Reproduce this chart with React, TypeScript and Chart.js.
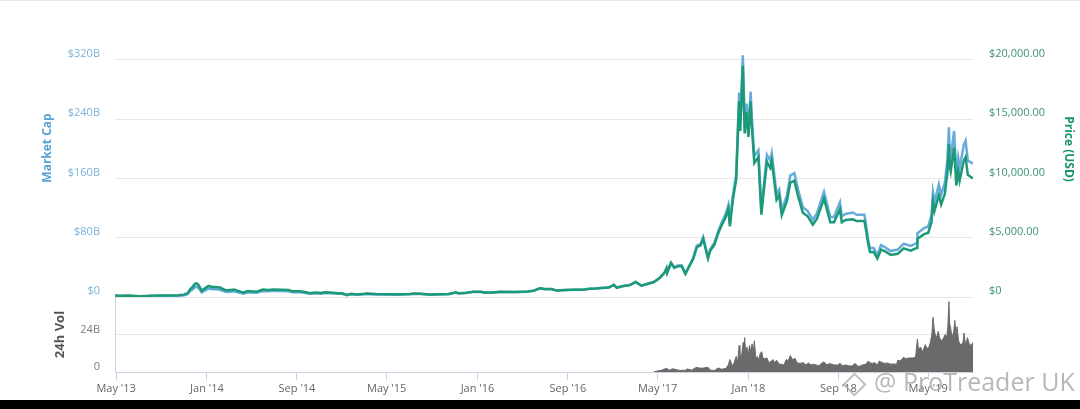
import React, { useEffect, useRef } from "react";
import { Chart, registerables } from "chart.js";

Chart.register(...registerables);

const START_DATE = "2013-04-28";
const END_DATE = "2019-08-30";

// ---- Price (USD) and Market Cap (billions USD) ----
const priceDates = [
  // 2013
  "2013-04-28", "2013-05-15", "2013-06-01", "2013-06-15", "2013-07-05", "2013-07-20", "2013-08-01", "2013-08-20", "2013-09-15", "2013-10-01",
  "2013-10-15", "2013-10-31", "2013-11-10", "2013-11-18", "2013-11-22", "2013-11-30", "2013-12-04", "2013-12-10", "2013-12-18", "2013-12-24",
  // 2014
  "2014-01-05", "2014-01-15", "2014-01-25", "2014-02-05", "2014-02-20", "2014-03-01", "2014-03-15", "2014-04-10", "2014-04-20", "2014-05-15",
  "2014-06-01", "2014-06-15", "2014-07-01", "2014-07-20", "2014-08-10", "2014-08-20", "2014-09-10", "2014-09-25", "2014-10-05", "2014-10-20",
  "2014-11-05", "2014-11-15", "2014-12-01", "2014-12-20",
  // 2015
  "2015-01-01", "2015-01-14", "2015-01-25", "2015-02-10", "2015-03-10", "2015-04-01", "2015-05-01", "2015-06-01", "2015-07-01", "2015-07-15",
  "2015-08-01", "2015-08-25", "2015-09-15", "2015-10-15", "2015-11-04", "2015-11-11", "2015-12-01", "2015-12-20",
  // 2016
  "2016-01-10", "2016-01-20", "2016-02-10", "2016-03-01", "2016-04-15", "2016-05-15", "2016-06-01", "2016-06-17", "2016-07-01", "2016-07-20",
  "2016-08-02", "2016-08-20", "2016-09-15", "2016-10-10", "2016-10-30", "2016-11-15", "2016-12-01", "2016-12-20",
  // 2017
  "2017-01-03", "2017-01-11", "2017-01-25", "2017-02-15", "2017-03-03", "2017-03-18", "2017-04-01", "2017-04-20", "2017-05-05", "2017-05-20",
  "2017-05-25", "2017-05-27", "2017-06-06", "2017-06-15", "2017-06-25", "2017-07-05", "2017-07-15", "2017-07-25", "2017-08-05", "2017-08-15",
  "2017-08-25", "2017-09-01", "2017-09-14", "2017-09-20", "2017-10-01", "2017-10-12", "2017-10-20", "2017-11-01", "2017-11-08", "2017-11-12",
  "2017-11-20", "2017-11-29", "2017-12-07", "2017-12-10", "2017-12-17", "2017-12-22", "2017-12-27",
  // 2018
  "2018-01-01", "2018-01-07", "2018-01-10", "2018-01-17", "2018-01-28", "2018-02-05", "2018-02-10", "2018-02-20", "2018-03-01", "2018-03-05",
  "2018-03-18", "2018-03-25", "2018-04-01", "2018-04-15", "2018-04-24", "2018-05-05", "2018-05-15", "2018-05-28", "2018-06-10", "2018-06-24",
  "2018-07-05", "2018-07-24", "2018-08-10", "2018-08-20", "2018-09-05", "2018-09-10", "2018-09-20", "2018-10-10", "2018-10-20", "2018-11-10",
  "2018-11-14", "2018-11-20", "2018-11-25", "2018-12-05", "2018-12-15", "2018-12-25",
  // 2019
  "2019-01-05", "2019-01-20", "2019-02-08", "2019-02-24", "2019-03-15", "2019-04-01", "2019-04-02", "2019-04-20", "2019-05-01", "2019-05-10",
  "2019-05-14", "2019-05-18", "2019-05-30", "2019-06-05", "2019-06-15", "2019-06-22", "2019-06-26", "2019-06-28", "2019-07-01", "2019-07-10",
  "2019-07-16", "2019-07-21", "2019-07-25", "2019-08-05", "2019-08-10", "2019-08-16", "2019-08-30",
];

const priceUSD = [
  // 2013
  135, 115, 129, 100, 70, 90, 105, 120, 130, 125,
  145, 200, 330, 700, 800, 1120, 1150, 980, 520, 665,
  // 2014
  930, 850, 850, 800, 570, 560, 630, 360, 500, 450,
  630, 600, 640, 620, 590, 480, 475, 410, 320, 380,
  330, 400, 380, 320,
  // 2015
  315, 175, 275, 220, 290, 245, 235, 225, 258, 285,
  280, 210, 230, 255, 400, 310, 360, 440,
  // 2016
  450, 380, 380, 435, 425, 455, 535, 740, 670, 665,
  540, 580, 610, 615, 700, 710, 750, 800,
  // 2017
  1020, 780, 900, 1000, 1260, 950, 1080, 1240, 1550, 2050,
  2400, 2050, 2850, 2450, 2600, 2600, 1950, 2550, 3200, 4200,
  4350, 4890, 3250, 3900, 4400, 5400, 6000, 6750, 7450, 5950,
  8200, 9900, 16500, 14000, 19500, 13800, 15600,
  // 2018
  13500, 16500, 14500, 11300, 11800, 6950, 8500, 11400, 10900, 11500,
  8200, 8600, 6900, 8100, 9650, 9800, 8500, 7100, 6800, 6100,
  6600, 8300, 6300, 6300, 7400, 6300, 6500, 6550, 6400, 6400,
  5700, 4500, 3800, 3800, 3250, 4000,
  // 2019
  3850, 3550, 3650, 4100, 3900, 4150, 4900, 5300, 5400, 6300,
  8000, 7250, 8600, 7800, 8700, 10500, 12900, 11100, 10600, 12600,
  9400, 10600, 9800, 11500, 11800, 10300, 10000,
];

const marketCapB = [
  // 2013
  1.5, 1.28, 1.43, 1.11, 0.81, 1.04, 1.21, 1.38, 1.5, 1.49,
  1.73, 2.38, 3.96, 8.4, 9.6, 13.4, 13.9, 11.8, 6.3, 8.0,
  // 2014
  11.3, 10.4, 10.4, 9.8, 7.0, 6.9, 7.8, 4.5, 6.3, 5.7,
  8.1, 7.7, 8.3, 8.0, 7.7, 6.3, 6.3, 5.4, 4.3, 5.1,
  4.4, 5.4, 5.1, 4.3,
  // 2015
  4.3, 2.4, 3.8, 3.0, 4.0, 3.4, 3.3, 3.2, 3.7, 4.1,
  4.1, 3.0, 3.4, 3.8, 5.9, 4.6, 5.4, 6.6,
  // 2016
  6.8, 5.7, 5.8, 6.7, 6.6, 7.1, 8.4, 11.6, 10.6, 10.5,
  8.5, 9.2, 9.7, 9.8, 11.2, 11.4, 12.0, 12.8,
  // 2017
  16.4, 12.6, 14.5, 16.2, 20.4, 15.4, 17.6, 20.2, 25.3, 33.5,
  39.2, 33.5, 46.7, 40.2, 42.6, 42.8, 32.1, 41.9, 52.8, 69.3,
  71.8, 80.9, 53.8, 64.5, 73.0, 89.6, 99.6, 112.5, 124.2, 99.2,
  136.7, 165.3, 276, 234, 326, 231, 261,
  // 2018
  226, 277, 243, 190, 198, 117, 143, 192, 184, 194,
  139, 145, 117, 137, 164, 167, 145, 121, 116, 104,
  113, 142, 108, 108, 128, 109, 112, 114, 111, 111,
  99, 78, 66, 66, 57, 70,
  // 2019
  67, 62, 64, 72, 69, 73, 86, 93, 95, 111,
  141, 128, 152, 138, 154, 186, 229, 197, 188, 224,
  167, 188, 174, 205, 211, 184, 180,
];

// ---- 24h Volume (billions USD) ----
const volumeDates = [
  // 2017
  "2017-04-20", "2017-05-01", "2017-05-10", "2017-05-25", "2017-06-01", "2017-06-12", "2017-06-20", "2017-07-01", "2017-07-16", "2017-07-20",
  "2017-08-01", "2017-08-08", "2017-08-15", "2017-08-22", "2017-09-01", "2017-09-14", "2017-09-20", "2017-10-01", "2017-10-12", "2017-10-20",
  "2017-11-01", "2017-11-08", "2017-11-12", "2017-11-20", "2017-11-29", "2017-12-03", "2017-12-07", "2017-12-09", "2017-12-12", "2017-12-15",
  "2017-12-18", "2017-12-20", "2017-12-22", "2017-12-25", "2017-12-28",
  // 2018
  "2018-01-01", "2018-01-04", "2018-01-07", "2018-01-11", "2018-01-14", "2018-01-17", "2018-01-21", "2018-01-25", "2018-01-29",
  "2018-02-02", "2018-02-06", "2018-02-09", "2018-02-14", "2018-02-20", "2018-02-25",
  "2018-03-02", "2018-03-08", "2018-03-13", "2018-03-18", "2018-03-25",
  "2018-04-01", "2018-04-07", "2018-04-13", "2018-04-18", "2018-04-24",
  "2018-05-01", "2018-05-06", "2018-05-12", "2018-05-20", "2018-05-29",
  "2018-06-05", "2018-06-12", "2018-06-19", "2018-06-25",
  "2018-07-03", "2018-07-10", "2018-07-17", "2018-07-24",
  "2018-08-01", "2018-08-08", "2018-08-14", "2018-08-22", "2018-08-30",
  "2018-09-05", "2018-09-12", "2018-09-20", "2018-09-28",
  "2018-10-08", "2018-10-15", "2018-10-25",
  "2018-11-05", "2018-11-14", "2018-11-20", "2018-11-25",
  "2018-12-01", "2018-12-08", "2018-12-15", "2018-12-20", "2018-12-28",
  // 2019
  "2019-01-05", "2019-01-11", "2019-01-20", "2019-01-28",
  "2019-02-05", "2019-02-08", "2019-02-15", "2019-02-24",
  "2019-03-01", "2019-03-10", "2019-03-20", "2019-03-28",
  "2019-04-02", "2019-04-05", "2019-04-10", "2019-04-16", "2019-04-23", "2019-04-28",
  "2019-05-03", "2019-05-07", "2019-05-11", "2019-05-14", "2019-05-17", "2019-05-20", "2019-05-24", "2019-05-28",
  "2019-06-01", "2019-06-05", "2019-06-10", "2019-06-16", "2019-06-20", "2019-06-23", "2019-06-26", "2019-06-28",
  "2019-07-01", "2019-07-04", "2019-07-09", "2019-07-12", "2019-07-15", "2019-07-18", "2019-07-22", "2019-07-28",
  "2019-08-03", "2019-08-06", "2019-08-10", "2019-08-15", "2019-08-20", "2019-08-25", "2019-08-30",
];

const volumeB = [
  // 2017
  0, 0.7, 1.0, 2.4, 1.2, 2.1, 1.5, 1.0, 1.2, 2.0,
  1.2, 2.3, 3.0, 2.5, 2.5, 3.0, 1.2, 1.0, 2.6, 1.8,
  2.2, 4.7, 8.0, 3.5, 10.0, 6.0, 17.0, 12.0, 9.0, 13.0,
  19.0, 14.0, 22.0, 10.0, 16.0,
  // 2018
  11, 17, 13, 18, 12, 20, 9, 10, 7.5,
  12, 13, 9, 8.5, 9, 6,
  6.5, 8, 6, 7.5, 5,
  5, 4.5, 8, 7, 10.5,
  7.5, 9, 6, 5.5, 6,
  4.5, 5.8, 4.5, 5,
  4.5, 4, 5.5, 6.5,
  4.5, 5.5, 5, 4.5, 4.5,
  5.5, 4, 4.5, 4,
  3.8, 5.5, 3.5,
  4.5, 5, 7, 6,
  5.5, 6, 4.5, 7, 6,
  // 2019
  5.5, 5.8, 5, 5.2,
  5, 7.5, 7, 9.5,
  8.5, 9, 9, 9.5,
  21, 14, 16, 13, 17.5, 15,
  16, 19, 24, 35, 28, 24, 22, 26,
  22, 20, 21, 24, 22, 29, 45, 31,
  28, 22, 26, 33, 24, 29, 20, 17,
  19, 25, 17, 22, 18, 17, 19,
];

// ---- Axis ticks ----
const xTickDates = [
  "2013-05-01", "2014-01-01", "2014-09-01", "2015-05-01", "2016-01-01",
  "2016-09-01", "2017-05-01", "2018-01-01", "2018-09-01", "2019-05-01",
];
const xTickLabels = [
  "May '13", "Jan '14", "Sep '14", "May '15", "Jan '16",
  "Sep '16", "May '17", "Jan '18", "Sep '18", "May '19",
];
const marketCapTicks = [0, 80, 160, 240, 320];
const priceTicks = [0, 5000, 10000, 15000, 20000];
const volumeTicks = [0, 24];

const FONT = '"Open Sans", "DejaVu Sans", sans-serif';

const dayOf = (d: string) => (Date.parse(d) - Date.parse(START_DATE)) / 86400000;

const fmtPrice = (v: number) =>
  v === 0
    ? "$0"
    : "$" + Number(v).toLocaleString("en-US", { minimumFractionDigits: 2, maximumFractionDigits: 2 });

const fixBox = (size: { width?: number; height?: number }) => (s: any) => {
  if (size.width !== undefined) s.width = size.width;
  if (size.height !== undefined) s.height = size.height;
  s.paddingTop = 0;
  s.paddingBottom = 0;
  s.paddingLeft = 0;
  s.paddingRight = 0;
};

type TitleSpec = { text: string; dx: number; dy: number; from: "left" | "right"; rot: number; font: string; color: string };

const axisTitles = (titles: TitleSpec[], centerY: boolean) => ({
  id: "axisTitles",
  afterDraw(chart: any) {
    const { ctx, chartArea } = chart;
    titles.forEach((t) => {
      const x = (t.from === "left" ? chartArea.left : chartArea.right) + t.dx;
      const y = centerY ? (chartArea.top + chartArea.bottom) / 2 + t.dy : chartArea.top + t.dy;
      ctx.save();
      ctx.translate(x, y);
      ctx.rotate(t.rot);
      ctx.font = t.font;
      ctx.fillStyle = t.color;
      ctx.textAlign = "center";
      ctx.textBaseline = "middle";
      ctx.fillText(t.text, 0, 0);
      ctx.restore();
    });
  },
});

export default function App() {
  const mainRef = useRef<HTMLCanvasElement | null>(null);
  const volRef = useRef<HTMLCanvasElement | null>(null);

  useEffect(() => {
    const xMax = dayOf(END_DATE);

    const main = new Chart(mainRef.current as HTMLCanvasElement, {
      type: "line",
      data: {
        datasets: [
          {
            label: "Price (USD)",
            data: priceDates.map((d, i) => ({ x: dayOf(d), y: priceUSD[i] })),
            yAxisID: "price",
            borderColor: "#1c9a78",
            borderWidth: 2.5,
            pointRadius: 0,
            tension: 0,
            fill: false,
          },
          {
            label: "Market Cap",
            data: priceDates.map((d, i) => ({ x: dayOf(d), y: marketCapB[i] })),
            yAxisID: "mcap",
            borderColor: "#65acdc",
            borderWidth: 2.5,
            pointRadius: 0,
            tension: 0,
            fill: false,
          },
        ],
      },
      options: {
        animation: false,
        responsive: false,
        events: [],
        layout: { padding: { top: 45, bottom: 3, left: 0, right: 0 } },
        plugins: { legend: { display: false }, tooltip: { enabled: false } },
        scales: {
          x: { type: "linear", min: 0, max: xMax, display: false },
          mcap: {
            type: "linear",
            position: "left",
            min: 0,
            max: 340,
            afterBuildTicks: (s: any) => {
              s.ticks = marketCapTicks.map((v) => ({ value: v }));
            },
            afterFit: fixBox({ width: 115 }),
            border: { display: false },
            grid: { color: "#e6e6e6", lineWidth: 1, drawTicks: false },
            ticks: {
              color: "#7ab3d6",
              font: { family: FONT, size: 11 },
              padding: 15,
              labelOffset: -6,
              callback: (v: any) => (v === 0 ? "$0" : `$${v}B`),
            },
          },
          price: {
            type: "linear",
            position: "right",
            min: 0,
            max: 21250,
            afterBuildTicks: (s: any) => {
              s.ticks = priceTicks.map((v) => ({ value: v }));
            },
            afterFit: fixBox({ width: 107 }),
            border: { display: false },
            grid: { display: false, drawTicks: false },
            ticks: {
              color: "#3f9279",
              font: { family: FONT, size: 11 },
              padding: 16,
              labelOffset: -6,
              callback: (v: any) => fmtPrice(Number(v)),
            },
          },
        },
      },
      plugins: [
        axisTitles(
          [
            { text: "Market Cap", dx: -67, dy: 103, from: "left", rot: -Math.PI / 2, font: `bold 12px ${FONT}`, color: "#55a3d5" },
            { text: "Price (USD)", dx: 95, dy: 104, from: "right", rot: Math.PI / 2, font: `bold 12px ${FONT}`, color: "#17956f" },
          ],
          false
        ),
      ],
    } as any);

    const vol = new Chart(volRef.current as HTMLCanvasElement, {
      type: "line",
      data: {
        datasets: [
          {
            label: "24h Vol",
            data: volumeDates.map((d, i) => ({ x: dayOf(d), y: volumeB[i] })),
            yAxisID: "vol",
            borderColor: "#6a6a6a",
            backgroundColor: "#6a6a6a",
            borderWidth: 1,
            pointRadius: 0,
            tension: 0,
            fill: "origin",
          },
        ],
      },
      options: {
        animation: false,
        responsive: false,
        events: [],
        layout: { padding: { top: 7, bottom: 0, left: 0, right: 107 } },
        plugins: { legend: { display: false }, tooltip: { enabled: false } },
        scales: {
          x: {
            type: "linear",
            min: 0,
            max: xMax,
            afterBuildTicks: (s: any) => {
              s.ticks = xTickDates.map((d) => ({ value: dayOf(d) }));
            },
            afterFit: fixBox({ height: 28 }),
            border: { display: true, color: "#ccd3e0" },
            grid: { drawOnChartArea: false, drawTicks: true, tickLength: 8, color: "#ccd3e0" },
            ticks: {
              autoSkip: false,
              maxRotation: 0,
              color: "#666666",
              font: { family: FONT, size: 11 },
              padding: 2,
              callback: (_v: any, i: number) => xTickLabels[i],
            },
          },
          vol: {
            type: "linear",
            position: "left",
            min: 0,
            max: 48,
            afterBuildTicks: (s: any) => {
              s.ticks = volumeTicks.map((v) => ({ value: v }));
            },
            afterFit: fixBox({ width: 115 }),
            border: { display: true, color: "#ccd3e0" },
            grid: { color: "#e6e6e6", drawTicks: false },
            ticks: {
              color: "#7a7a7a",
              font: { family: FONT, size: 11 },
              padding: 15,
              labelOffset: -5,
              callback: (v: any) => (v === 0 ? "0" : `${v}B`),
            },
          },
        },
      },
      plugins: [
        axisTitles(
          [{ text: "24h Vol", dx: -55, dy: 0, from: "left", rot: -Math.PI / 2, font: `bold 13px ${FONT}`, color: "#555555" }],
          true
        ),
      ],
    } as any);

    return () => {
      main.destroy();
      vol.destroy();
    };
  }, []);

  return (
    <div
      style={{
        position: "fixed",
        left: 0,
        top: 0,
        width: 1080,
        height: 409,
        background: "#ffffff",
        overflow: "hidden",
        fontFamily: FONT,
      }}
    >
      <div style={{ position: "absolute", left: 0, top: 0, width: 1080, height: 1, background: "#e8e8e8" }} />
      <canvas
        ref={mainRef}
        width={1080}
        height={300}
        style={{ position: "absolute", left: 0, top: 0, width: 1080, height: 300 }}
      />
      <canvas
        ref={volRef}
        width={1080}
        height={110}
        style={{ position: "absolute", left: 0, top: 290, width: 1080, height: 110 }}
      />
      <div
        style={{
          position: "absolute",
          left: 846,
          top: 376,
          width: 13,
          height: 13,
          border: "2px solid rgba(165,165,165,0.7)",
          transform: "rotate(45deg)",
        }}
      />
      <div
        style={{
          position: "absolute",
          left: 874,
          top: 369,
          fontSize: 25,
          lineHeight: "25px",
          color: "rgba(160,160,160,0.75)",
          whiteSpace: "nowrap",
          fontFamily: FONT,
        }}
      >
        @ ProTreader UK
      </div>
      <div style={{ position: "absolute", left: 0, top: 400, width: 1080, height: 9, background: "#000000" }} />
    </div>
  );
}
